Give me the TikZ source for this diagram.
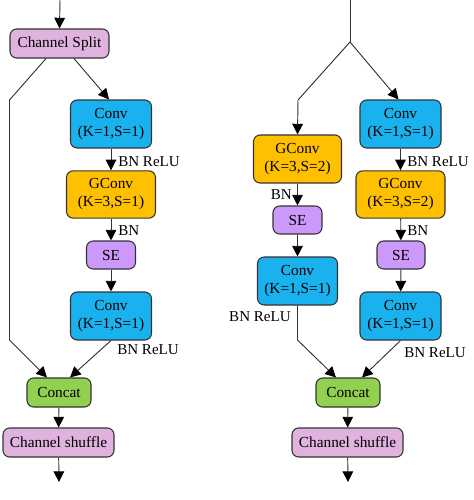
\documentclass[tikz,border=0pt]{standalone}
\usepackage{fontspec}
\setmainfont{Liberation Serif}
\newfontfamily\tnr{Liberation Serif}
\usetikzlibrary{arrows.meta,calc}
\definecolor{cblue}{HTML}{1AB2EE}
\definecolor{corange}{HTML}{FFC000}
\definecolor{cpurple}{HTML}{CC99FA}
\definecolor{cgreen}{HTML}{92D050}
\definecolor{cpink}{HTML}{E0B2DE}
\definecolor{cline}{HTML}{333333}
\begin{document}
\begin{tikzpicture}[x=0.75pt,y=-0.75pt,
  box/.style={draw=cline,line width=0.8pt,rounded corners=5pt,align=center,inner sep=0pt,
    font=\tnr\fontsize{11.5}{13.5}\selectfont},
  convbox/.style={box,fill=cblue,minimum width=60.75pt,minimum height=36pt},
  gconvbox/.style={box,fill=corange,minimum width=66.75pt,minimum height=35.5pt},
  sebox/.style={box,fill=cpurple,minimum width=36.75pt,minimum height=21pt},
  catbox/.style={box,fill=cgreen,minimum width=48pt,minimum height=21.75pt},
  pinkbox/.style={box,fill=cpink,minimum width=83.25pt,minimum height=21.75pt},
  lbl/.style={font=\tnr\fontsize{11.3}{13}\selectfont,inner sep=0pt},
  ln/.style={draw=cline,line width=0.7pt},
  arr/.style={ln,-{Triangle[length=8pt,width=8pt,color=black]}}]
\useasboundingbox (0,0) rectangle (474,500);
% ---------- left block ----------
\node[box,fill=cpink,minimum width=74.25pt,minimum height=21.75pt] (split) at (59.5,43.5) {Channel Split};
\node[convbox] (conv1) at (111,124) {Conv\\(K=1,S=1)};
\node[gconvbox] (gconv1) at (111,194.5) {GConv\\(K=3,S=1)};
\node[sebox] (se1) at (111,255) {SE};
\node[convbox] (conv2) at (111,316) {Conv\\(K=1,S=1)};
\node[catbox] (cat1) at (59,392.5) {Concat};
\node[pinkbox] (shuf1) at (58.5,442.5) {Channel shuffle};
\coordinate (in1) at (60,0);
\coordinate (out1) at (59,482);
\coordinate (bend1) at (9.5,100);
\coordinate (bend2) at (9.5,340);
\draw[arr] (in1) -- (split.north);
\draw[arr] ($(split.south)+(14.5,0)$) -- ($(conv1.north)+(-2,0)$);
\draw[arr] ($(split.south)+(-13.5,0)$) -- (bend1) -- (bend2) -- ($(cat1.north)+(-12,0)$);
\draw[arr] (conv1) -- (gconv1);
\draw[arr] (gconv1) -- (se1);
\draw[arr] (se1) -- (conv2);
\draw[arr] (conv2.south) -- ($(cat1.north)+(11,0)$);
\draw[arr] (cat1) -- (shuf1);
\draw[arr] (shuf1) -- (out1);
\node[lbl,anchor=west] (l1) at (118,162) {BN ReLU};
\node[lbl,anchor=west] (l2) at (118,231) {BN};
\node[lbl,anchor=west] (l3) at (117,350) {BN ReLU};
% ---------- right block ----------
\coordinate (in2) at (350,0);
\coordinate (fork) at (350,42);
\coordinate (fl) at (298,100);
\node[gconvbox,minimum width=66pt,minimum height=36pt] (gconvL) at (297.5,159) {GConv\\(K=3,S=2)};
\node[sebox] (seL) at (297.5,220) {SE};
\node[convbox,minimum width=60pt] (convL) at (297.5,281) {Conv\\(K=1,S=1)};
\node[convbox] (convR) at (400.5,124) {Conv\\(K=1,S=1)};
\node[gconvbox] (gconvR) at (400.5,194.5) {GConv\\(K=3,S=2)};
\node[sebox,minimum width=36pt] (seR) at (401,255) {SE};
\node[convbox] (convR2) at (400.5,316) {Conv\\(K=1,S=1)};
\node[catbox] (cat2) at (348,392.5) {Concat};
\node[pinkbox] (shuf2) at (347.5,442.5) {Channel shuffle};
\coordinate (out2) at (348,482);
\coordinate (bendL) at (297.5,340);
\draw[ln] (in2) -- (fork);
\draw[arr] (fork) -- (fl) -- (gconvL.north);
\draw[arr] (fork) -- ($(convR.north)+(-2,0)$);
\draw[arr] (gconvL) -- (seL);
\draw[arr] (seL) -- (convL);
\draw[arr] (convL.south) -- (bendL) -- ($(cat2.north)+(-12,0)$);
\draw[arr] (convR) -- (gconvR);
\draw[arr] (gconvR) -- (seR);
\draw[arr] (seR) -- (convR2);
\draw[arr] (convR2.south) -- ($(cat2.north)+(14,0)$);
\draw[arr] (cat2) -- (shuf2);
\draw[arr] (shuf2) -- (out2);
\node[lbl,anchor=west] (r1) at (407,162) {BN ReLU};
\node[lbl,anchor=west] (r2) at (407,231) {BN};
\node[lbl,anchor=east] (r3) at (292,195) {BN};
\node[lbl,anchor=east] (r4) at (291,317) {BN ReLU};
\node[lbl,anchor=west] (r5) at (404,353) {BN ReLU};
\end{tikzpicture}
\end{document}
